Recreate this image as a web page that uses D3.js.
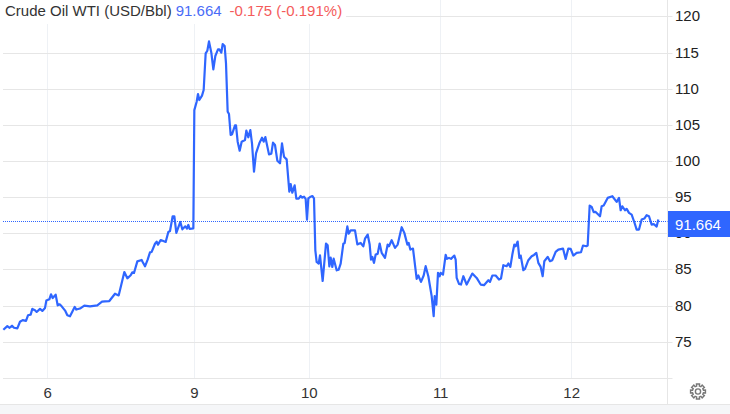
<!DOCTYPE html>
<html>
<head>
<meta charset="utf-8">
<style>
html,body{margin:0;padding:0;background:#fff;overflow:hidden}
svg{display:block;font-family:"Liberation Sans",Arial,sans-serif}
</style>
<script src="https://cdn.jsdelivr.net/npm/d3@7"></script>
</head>
<body>
<svg id="chart" width="730" height="414"></svg>
<script>
const titleText = "Crude Oil WTI (USD/Bbl)";
const lastText = "91.664";
const changeText = "-0.175 (-0.191%)";
const lastPrice = 91.664;
const priceTicks = [75,80,85,90,95,100,105,110,115,120];
const monthLabels = ["6","9","10","11","12"];
const monthObs = [143,583,928,1322,1715];
const obs = [10,22,28,36,42,52,60,68,78,84,92,97,105,110,120,127,135,139,148,153,158,167,173,179,185,196,202,210,218,224,229,240,253,270,292,306,315,328,345,356,364,373,382,392,397,402,412,425,428,435,443,450,455,465,470,474,482,490,497,505,510,518,523,529,541,547,556,561,565,569,580,583,
590,594,598,606,611,617,622,627,634,640,646,654,658,664,668,674,678,683,687,692,696,705,708,713,719,725,735,739,745,751,756,762,768,778,786,791,796,807,814,819,825,832,840,846,852,860,868,872,877,884,889,896,902,906,912,917,921,925,932,937,942,946,950,956,960,968,978,983,988,992,997,1001,1010,1016,1022,1030,1034,1042,1046,1052,1065,1072,1082,1090,
1095,1103,1109,1113,1117,1122,1127,1133,1139,1145,1155,1163,1167,1175,1185,1193,1205,1213,1222,1226,1231,1239,1250,1255,1263,1271,1277,1285,1295,1301,1304,1309,1314,1319,1322,1329,1337,1341,1347,1353,1363,1367,1370,1377,1383,1390,1400,1417,1430,1442,1452,1465,1470,1477,1487,1497,1503,1510,1520,1525,1531,1537,1543,1547,1553,1558,1562,1570,1575,1585,1595,1602,1609,1615,1622,1628,1633,1643,1650,1657,1667,1675,1689,1697,1705,1712,1720,1730,1743,1749,1759,1763,1769,1775,1781,1787,1800,1805,1811,1823,1837,1850,1857,1862,1867,1875,1880,1887,1895,1903,1910,1917,1925,1933,1940,1947,1955,1962,1970,1975];
const price = [76.71,77.22,76.99,77.27,76.99,76.9,77.82,78.05,77.95,78.72,78.81,79.6,79.41,79.18,79.6,79.32,79.73,80.75,80.93,81.62,81.11,81.57,80.1,80.24,79.96,79.32,78.72,78.58,79.32,79.88,79.51,79.65,80.05,79.96,80.1,80.6,80.64,80.69,81.7,81.47,82.99,84.7,83.83,84.25,84.66,84.57,86.18,86.37,86.09,85.49,86.41,87.43,87.48,88.62,88.9,88.48,89.13,88.99,88.86,90.24,90.38,92.42,92.42,90.11,91.63,90.61,91.03,90.71,91.22,90.66,90.75,107.1,
108.27,109.33,108.5,109.1,109.88,114.95,115.32,116.61,115.05,112.74,114.59,115.5,115.5,115.05,116.24,115.97,113.57,106.89,106.56,103.66,103.75,105,105,102.74,101.49,102.74,102.97,104.26,103.34,104.35,102.51,98.59,101.12,102.51,103.29,102.74,103.38,100.98,101.08,102.6,102.28,100.11,99.74,102.51,100.66,100.29,95.82,96.88,95.68,96.7,94.85,94.85,95.22,94.99,95.13,94.81,91.95,94.9,95.13,95.22,94.9,87.7,86.09,85.86,87,83.46,88.63,88.4,85.49,86.69,85.4,86.55,84.94,85.03,85.86,88.63,88.72,91.02,90,90.47,90.47,88.53,88.72,88.26,
89.32,89.89,88.5,86.43,86.8,85.97,87.12,87.21,88.64,87.35,86.66,88.5,88.27,89.1,88.04,88.5,90.9,90.12,88.5,88.73,87.81,87.95,83.76,84.22,83.34,84.22,85.51,84.12,81.36,78.59,81.36,80.2,84.59,84.12,84.59,84.35,87.07,86.52,86.66,86.52,86.98,86.43,83.89,83.06,82.97,84.12,82.97,84.49,83.89,82.97,82.88,83.57,83.34,84.22,84.22,83.66,83.8,85.65,85.51,85.88,85.41,87.12,88.5,88.27,88.92,86.66,86.98,84.95,85.14,86.34,86.89,87.07,87.35,85.97,85.41,84.12,86.2,86.8,86.2,86.34,87.49,87.81,87.95,86.52,87.95,87.9,86.98,87.35,87.44,88.37,88.27,88.37,93.9,93.71,92.98,93.02,92.42,93.8,93.9,94.96,95.19,94.41,94.96,93.25,93.8,93.25,93.44,92.88,92.65,91.59,90.58,90.58,91.96,92.1,92.56,92.42,91.27,91.32,90.99,91.96,91.87];

const svg = d3.select("#chart");
const x = d3.scaleLinear().domain([0,2190]).range([0,730]);
const y = d3.scaleLinear().domain([70,120]).range([378.3,16.9]);
const plotLeft = 3, axisX = 667.5, plotBottom = 378.3, footerTop = 404;
const gridColor = "#e6e6e6", vGridColor = "#eef1f5";
const blue = "#2f66ff";

svg.append("rect").attr("x",0).attr("y",footerTop).attr("width",730).attr("height",10).attr("fill","#f5f6f8");
svg.append("line").attr("x1",0).attr("x2",730).attr("y1",footerTop+.5).attr("y2",footerTop+.5).attr("stroke",gridColor);

// vertical grid
svg.append("g").selectAll("line").data(monthObs).join("line")
  .attr("x1",d=>Math.floor(x(d))+.5).attr("x2",d=>Math.floor(x(d))+.5)
  .attr("y1",0).attr("y2",plotBottom).attr("stroke",vGridColor);

// horizontal grid + ticks
svg.append("g").selectAll("line").data([70].concat(priceTicks)).join("line")
  .attr("x1",plotLeft).attr("x2",axisX+5)
  .attr("y1",d=>Math.floor(y(d))+.5).attr("y2",d=>Math.floor(y(d))+.5)
  .attr("stroke",gridColor);

// axis line
svg.append("line").attr("x1",axisX).attr("x2",axisX).attr("y1",0).attr("y2",footerTop).attr("stroke",gridColor);

// title background
svg.append("rect").attr("x",0).attr("y",0).attr("width",346).attr("height",24).attr("fill","#fff");

// last price dotted
svg.append("line").attr("x1",plotLeft).attr("x2",axisX)
  .attr("y1",Math.floor(y(lastPrice))+.5).attr("y2",Math.floor(y(lastPrice))+.5)
  .attr("stroke",blue).attr("stroke-dasharray","1 1");

// series
const line = d3.line().x((d,i)=>x(obs[i])).y(d=>y(d));
svg.append("path").datum(price).attr("d",line).attr("fill","none").attr("stroke",blue).attr("stroke-width",2.2).attr("stroke-linejoin","round");

// y axis labels
svg.append("g").selectAll("text").data(priceTicks).join("text")
  .attr("x",675).attr("y",d=>y(d)+4.5).attr("font-size",15).attr("fill","#222").text(d=>d);

// x labels
svg.append("g").selectAll("text").data(monthObs).join("text")
  .attr("x",d=>x(d)).attr("y",398).attr("text-anchor","middle").attr("font-size",15).attr("fill","#333")
  .text((d,i)=>monthLabels[i]);

// price badge
svg.append("rect").attr("x",668).attr("y",211).attr("width",62).attr("height",26).attr("fill",blue);
svg.append("text").attr("x",675).attr("y",230).attr("font-size",15).attr("fill","#fff").text(lastText);

// title
const t = svg.append("text").attr("x",5).attr("y",16).attr("font-size",15);
t.append("tspan").attr("fill","#333").text(titleText);
t.append("tspan").attr("dx",4).attr("fill","#4a6cf7").text(lastText);
t.append("tspan").attr("dx",8).attr("fill","#f45b5b").text(changeText);

// gear
const teeth = 8, cx = 698, cy = 391.5, rO = 7.6, rI = 5.6;
const gear = d3.range(teeth).flatMap(i=>{
  const a = i/teeth*2*Math.PI, w = Math.PI/teeth*.52, g = Math.PI/teeth*.62;
  return [[rI,a-g],[rO,a-w],[rO,a+w],[rI,a+g]];
});
svg.append("path").attr("d",d3.lineRadial().radius(d=>d[0]).angle(d=>d[1]).curve(d3.curveLinearClosed)(gear))
  .attr("transform",`translate(${cx},${cy})`).attr("fill","none").attr("stroke","#777").attr("stroke-width",1.4);
svg.append("circle").attr("cx",cx).attr("cy",cy).attr("r",2.6).attr("fill","none").attr("stroke","#777").attr("stroke-width",1.4);
</script>
</body>
</html>
